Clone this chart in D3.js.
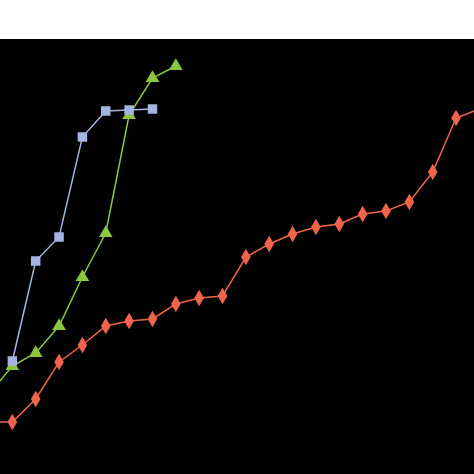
<!DOCTYPE html>
<html><head><meta charset="utf-8">
<script src="https://cdn.jsdelivr.net/npm/d3@7"></script>
<style>body{margin:0;background:#fff}</style>
</head><body>
<svg id="chart" width="474" height="474"></svg>
<script>
"use strict";
// values in picture units (higher = up), index is the x step
var redVals = [52, 52, 75, 112, 129, 148, 153, 155, 170, 176, 178, 217, 230, 240, 247, 250, 260, 263, 272, 302, 356, 365];
var blueStart = 1;
var blueVals = [113, 213, 237, 337, 363, 364, 365];
var greenVals = [80, 108, 121, 148, 197, 241, 359, 396, 408];

var svg = d3.select("#chart"),
  x = d3.scaleLinear().domain([0, 21]).range([-11, 479.4]),
  y = d3.scaleLinear().domain([0, 435]).range([474, 39]);

svg.append("rect").attr("x", 0).attr("y", 39).attr("width", 474).attr("height", 435).attr("fill", "#000");

function series(vals, start, color, sym, size) {
  var pts = vals.map(function(v, i) { return [x(i + start), y(v)]; });
  var g = svg.append("g");
  g.append("path").attr("d", d3.line()(pts)).attr("fill", "none")
    .attr("stroke", color).attr("stroke-width", 1.5);
  g.selectAll("path.m").data(pts).enter().append("path").attr("class", "m")
    .attr("transform", function(d) { return "translate(" + d[0] + "," + d[1] + ")" + (sym === d3.symbolSquare ? "" : ""); })
    .attr("d", d3.symbol().type(sym).size(size)).attr("fill", color);
}

series(redVals, 0, "#f0644c", d3.symbolDiamond, 80);
series(greenVals, 0, "#8cc63e", d3.symbolTriangle, 80);
series(blueVals, blueStart, "#a4b4e2", d3.symbolSquare, 90);
</script>
</body></html>
